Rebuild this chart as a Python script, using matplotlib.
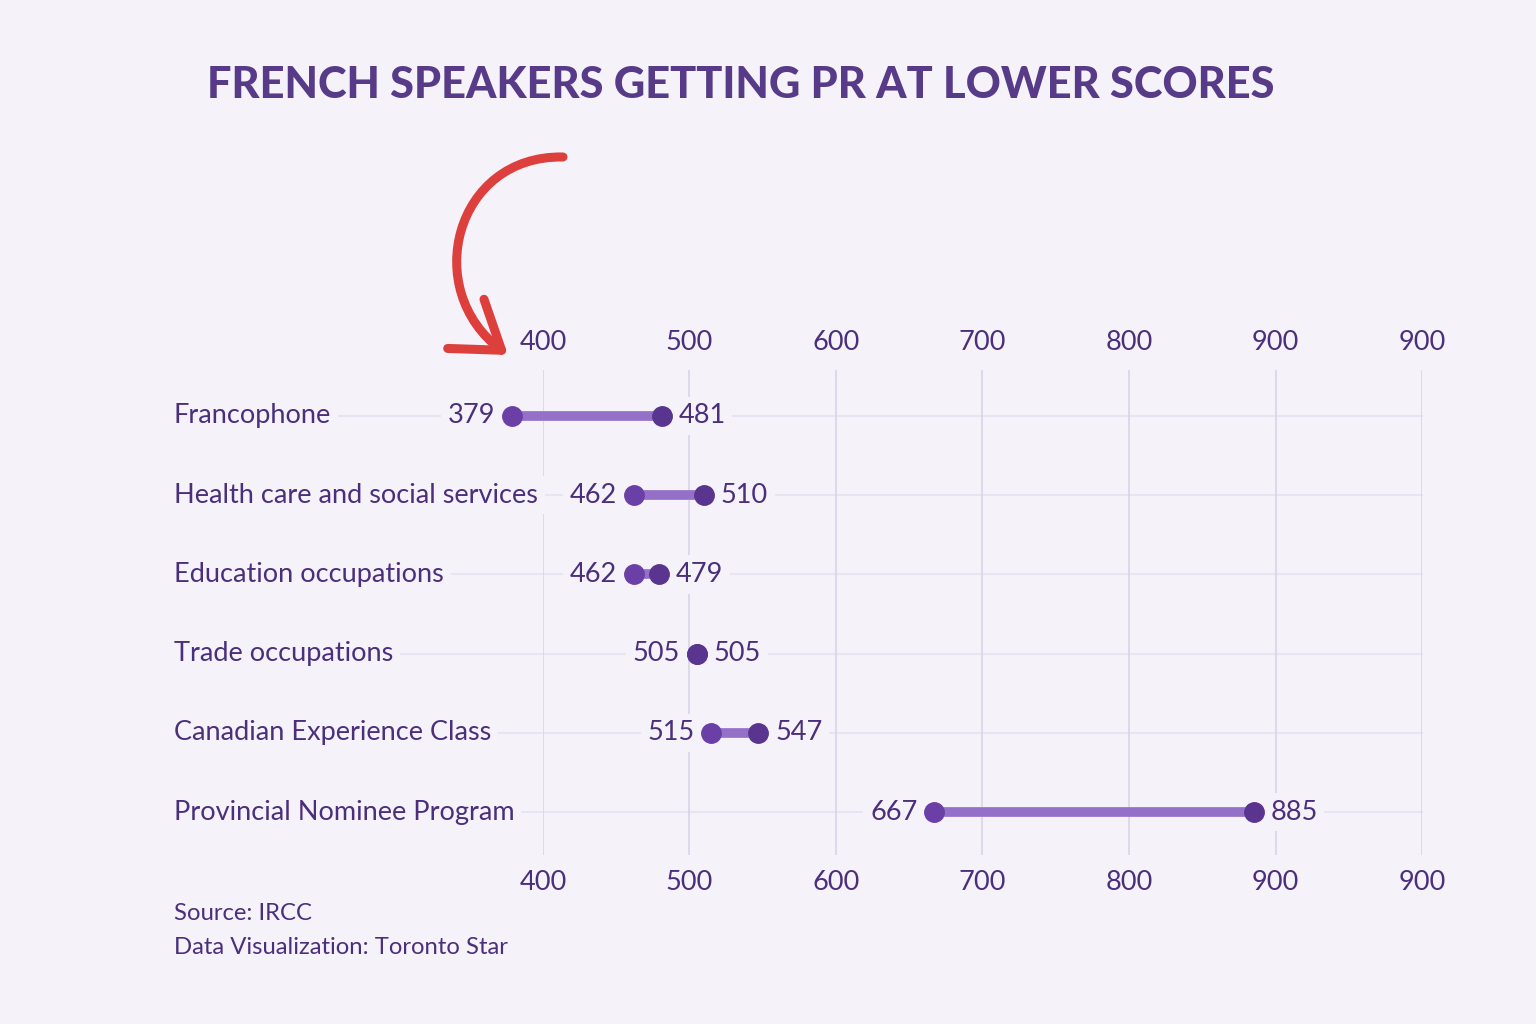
import matplotlib
matplotlib.use("Agg")
import matplotlib.pyplot as plt
import matplotlib.transforms as mtransforms
from matplotlib.patches import FancyArrowPatch
from matplotlib.path import Path

categories = [
    "Francophone",
    "Health care and social services",
    "Education occupations",
    "Trade occupations",
    "Canadian Experience Class",
    "Provincial Nominee Program",
]
low_scores = [379, 462, 462, 505, 515, 667]
high_scores = [481, 510, 479, 505, 547, 885]
tick_values = [400, 500, 600, 700, 800, 900, 1000]
tick_labels = ["400", "500", "600", "700", "800", "900", "900"]

BG = "#f5f2f9"
TEXT = "#4b2f7c"
TITLE = "#573b88"
LINE = "#9570c9"
DOT_LOW = "#6a40a6"
DOT_HIGH = "#5a3590"
GRID = "#d9d3ea"
HGRID = "#e9e4f2"
FONT = "Lato"
FS = 19.5

plt.rcParams["font.family"] = [FONT, "DejaVu Sans"]

fig = plt.figure(figsize=(15.36, 10.24), dpi=100, facecolor=BG)
W, H = 1536, 1024

ax = fig.add_axes([543 / W, 1 - 855 / H, (1422 - 543) / W, (855 - 370) / H])
ax.set_facecolor("none")
ax.set_xlim(400, 1000)
ax.set_ylim(len(categories) - 0.46, -0.58)
for s in ax.spines.values():
    s.set_visible(False)
ax.set_yticks([])
ax.set_xticks(tick_values)
ax.set_xticklabels(tick_labels)
ax.tick_params(axis="x", length=0, labelsize=FS, labelcolor=TEXT, pad=11,
               top=True, labeltop=True, bottom=True, labelbottom=True)
for v in tick_values:
    ax.axvline(v, color=GRID, lw=1.2, zorder=1)

# faint row lines running from the label column to the right edge
x_left = 400 + (174 - 543) * 600 / (1422 - 543)
for i in range(len(categories)):
    ax.plot([x_left, 1000], [i, i], color=HGRID, lw=1.5, zorder=0.5, clip_on=False)

label_tr = mtransforms.blended_transform_factory(fig.transFigure, ax.transData)
box = dict(boxstyle="square,pad=0.25", facecolor=BG, edgecolor="none")
for i, (cat, lo, hi) in enumerate(zip(categories, low_scores, high_scores)):
    ax.text(174 / W, i, cat, transform=label_tr, ha="left", va="center",
            fontsize=FS, color=TEXT, bbox=box, zorder=3, clip_on=False)
    ax.plot([lo, hi], [i, i], color=LINE, lw=7, solid_capstyle="butt",
            zorder=4, clip_on=False)
    ax.plot(lo, i, "o", ms=14, color=DOT_LOW, zorder=5, clip_on=False)
    ax.plot(hi, i, "o", ms=14, color=DOT_HIGH, zorder=5, clip_on=False)
    ax.annotate(str(lo), (lo, i), xytext=(-12, 0), textcoords="offset points",
                ha="right", va="center", fontsize=FS, color=TEXT, bbox=box,
                zorder=3, annotation_clip=False)
    ax.annotate(str(hi), (hi, i), xytext=(12, 0), textcoords="offset points",
                ha="left", va="center", fontsize=FS, color=TEXT, bbox=box,
                zorder=3, annotation_clip=False)

fig.text(207 / W, 1 - 85 / H, "FRENCH SPEAKERS GETTING PR AT LOWER SCORES",
         ha="left", va="center", fontsize=31.2, fontweight="black", color=TITLE)

fig.text(174 / W, 1 - 913 / H, "Source: IRCC", ha="left", va="center",
         fontsize=17.2, color=TEXT)
fig.text(174 / W, 1 - 947 / H, "Data Visualization: Toronto Star", ha="left",
         va="center", fontsize=17.2, color=TEXT)

# curved red pointer towards the Francophone row
pts = [(563, 157), (455, 155), (420, 290), (508, 355)]
arc = Path([(x / W, 1 - y / H) for x, y in pts],
           [Path.MOVETO, Path.CURVE4, Path.CURVE4, Path.CURVE4])
arrow = FancyArrowPatch(path=arc, transform=fig.transFigure,
                        arrowstyle="->,head_length=1.6,head_width=1.1",
                        mutation_scale=20, color="#dc3f3c", lw=6.5,
                        capstyle="round", joinstyle="round")
fig.patches.append(arrow)

fig.savefig("out.png", dpi=100, facecolor=BG)
